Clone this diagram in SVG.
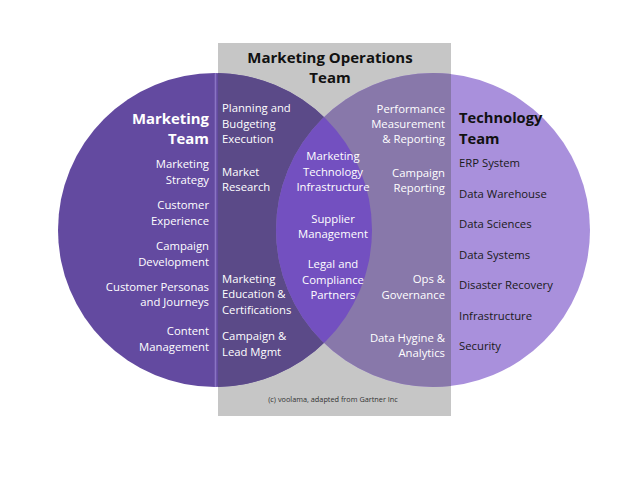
<svg xmlns="http://www.w3.org/2000/svg" width="640" height="480" viewBox="0 0 640 480">
<defs>
<style>
text{font-family:"Open Sans","Noto Sans","Liberation Sans",sans-serif}
.w{fill:#ffffff;font-size:11.3px}
.b{fill:#1a1a1a;font-size:11.3px}
.hw{fill:#ffffff;font-size:14.9px;font-weight:bold}
.hb{fill:#111111;font-size:14.7px;font-weight:bold}
.r{text-anchor:end}
.m{text-anchor:middle}
</style>
<clipPath id="cRect"><rect x="218" y="43" width="233" height="373"/></clipPath>
<clipPath id="cLeft"><circle cx="215" cy="230" r="157"/></clipPath>
</defs>
<rect width="640" height="480" fill="#ffffff"/>
<g id="shapes">
<rect x="218" y="43" width="233" height="373" fill="#c6c6c6"/>
<circle cx="215" cy="230" r="157" fill="#634aa0"/>
<circle cx="433" cy="230" r="157" fill="#a990dc"/>
<circle cx="215" cy="230" r="157" fill="#5b4a88" clip-path="url(#cRect)"/>
<circle cx="433" cy="230" r="157" fill="#8878aa" clip-path="url(#cRect)"/>
<circle cx="433" cy="230" r="157" fill="#7350c0" clip-path="url(#cLeft)"/>
<line x1="215.5" y1="60" x2="215.5" y2="400" stroke="#8a74c4" stroke-width="1.6" clip-path="url(#cLeft)"/>
</g>
<g id="ops-team">
<text class="hb m" x="330" y="63" style="font-size:15px">Marketing Operations</text>
<text class="hb m" x="330" y="83" style="font-size:15px">Team</text>
</g>
<g id="marketing-team">
<text class="hw r" x="209" y="124">Marketing</text>
<text class="hw r" x="209" y="144">Team</text>
<text class="w r" x="209" y="168">Marketing </text>
<text class="w r" x="209" y="184">Strategy</text>
<text class="w r" x="209" y="209">Customer </text>
<text class="w r" x="209" y="225">Experience</text>
<text class="w r" x="209" y="250">Campaign </text>
<text class="w r" x="209" y="266">Development</text>
<text class="w r" x="209" y="291">Customer Personas </text>
<text class="w r" x="209" y="306">and Journeys</text>
<text class="w r" x="209" y="335">Content </text>
<text class="w r" x="209" y="351">Management</text>
</g>
<g id="ops-left">
<text class="w" x="222" y="112">Planning and</text>
<text class="w" x="222" y="128">Budgeting</text>
<text class="w" x="222" y="143">Execution</text>
<text class="w" x="222" y="176">Market</text>
<text class="w" x="222" y="191">Research</text>
<text class="w" x="222" y="283">Marketing</text>
<text class="w" x="222" y="298">Education &amp;</text>
<text class="w" x="222" y="314">Certifications</text>
<text class="w" x="222" y="340">Campaign &amp;</text>
<text class="w" x="222" y="356">Lead Mgmt</text>
</g>
<g id="ops-center">
<text class="w m" x="333" y="160">Marketing</text>
<text class="w m" x="333" y="176">Technology</text>
<text class="w m" x="333" y="191">Infrastructure</text>
<text class="w m" x="333" y="223">Supplier</text>
<text class="w m" x="333" y="238">Management</text>
<text class="w m" x="333" y="268">Legal and</text>
<text class="w m" x="333" y="284">Compliance</text>
<text class="w m" x="333" y="299">Partners</text>
</g>
<g id="ops-right">
<text class="w r" x="445" y="113">Performance</text>
<text class="w r" x="445" y="128">Measurement</text>
<text class="w r" x="445" y="143">&amp; Reporting</text>
<text class="w r" x="445" y="177">Campaign</text>
<text class="w r" x="445" y="192">Reporting</text>
<text class="w r" x="445" y="283">Ops &amp;</text>
<text class="w r" x="445" y="299">Governance</text>
<text class="w r" x="445" y="342">Data Hygine &amp;</text>
<text class="w r" x="445" y="357">Analytics</text>
</g>
<g id="technology-team">
<text class="hb" x="459" y="123">Technology</text>
<text class="hb" x="459" y="144">Team</text>
<text class="b" x="459" y="167">ERP System</text>
<text class="b" x="459" y="198">Data Warehouse</text>
<text class="b" x="459" y="228">Data Sciences</text>
<text class="b" x="459" y="259">Data Systems</text>
<text class="b" x="459" y="289">Disaster Recovery</text>
<text class="b" x="459" y="320">Infrastructure</text>
<text class="b" x="459" y="350">Security</text>
</g>
<g id="credit">
<text class="m" x="333" y="402" style="font-size:7.3px;fill:#333333">(c) voolama, adapted from Gartner Inc</text>
</g>
</svg>
